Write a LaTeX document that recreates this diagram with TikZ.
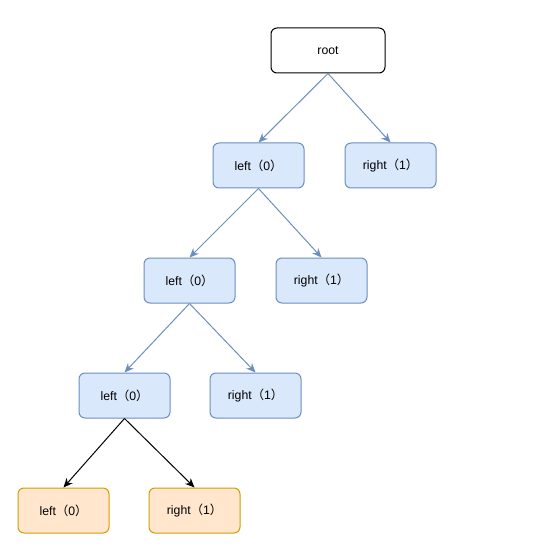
\documentclass[tikz,border=0pt]{standalone}
\usepackage{fontspec}
\setmainfont{Liberation Sans}
\newfontfamily\cjk{Noto Sans CJK SC}
\usetikzlibrary{arrows.meta}
\definecolor{bluefill}{HTML}{DAE8FC}
\definecolor{blueline}{HTML}{6C8EBF}
\definecolor{orangefill}{HTML}{FFE6CC}
\definecolor{orangeline}{HTML}{D79B00}
\newcommand{\lab}[2]{#1{\cjk （}#2{\cjk ）}}
\begin{document}
\begin{tikzpicture}[x=0.75pt,y=-0.75pt,font=\fontsize{9.2pt}{11pt}\selectfont,
  tnode/.style={draw, rounded corners=4.5pt, minimum width=68.25pt,
                minimum height=33.75pt, align=center, line width=0.75pt},
  bnode/.style={tnode, fill=bluefill, draw=blueline},
  onode/.style={tnode, fill=orangefill, draw=orangeline},
  barr/.style={-{Stealth[length=7pt,width=6pt]}, draw=blueline, line width=0.75pt},
  karr/.style={-{Stealth[length=7pt,width=6pt]}, line width=0.75pt}
]
  \useasboundingbox (0,0) rectangle (542,559);
  \node[tnode, fill=white, minimum width=85.5pt] (root) at (328, 50.5) {root};
  \node[bnode] (l1) at (258.5, 165.5) {\lab{left}{0}};
  \node[bnode] (r1) at (390.5, 165.5) {\lab{right}{1}};
  \node[bnode] (l2) at (189.5, 280.5) {\lab{left}{0}};
  \node[bnode] (r2) at (321.5, 280.5) {\lab{right}{1}};
  \node[bnode] (l3) at (124.5, 395.5) {\lab{left}{0}};
  \node[bnode] (r3) at (255.5, 395.5) {\lab{right}{1}};
  \node[onode] (l4) at (63.5, 510.5) {\lab{left}{0}};
  \node[onode] (r4) at (194.5, 510.5) {\lab{right}{1}};
  \draw[barr] (root.south) -- (l1.north);
  \draw[barr] (root.south) -- (r1.north);
  \draw[barr] (l1.south) -- (l2.north);
  \draw[barr] (l1.south) -- (r2.north);
  \draw[barr] (l2.south) -- (l3.north);
  \draw[barr] (l2.south) -- (r3.north);
  \draw[karr] (l3.south) -- (l4.north);
  \draw[karr] (l3.south) -- (r4.north);
\end{tikzpicture}
\end{document}
